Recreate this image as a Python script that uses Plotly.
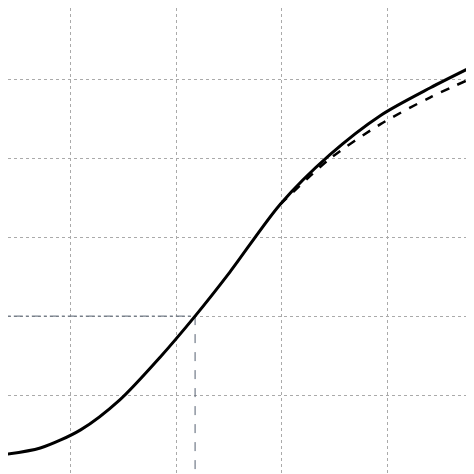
import plotly.graph_objects as go

# solid curve
x_solid = [0.34, 0.72, 1.10, 1.47, 1.85, 2.18, 2.51, 2.98, 3.45, 3.93, 4.40, 4.89]
y_solid = [0.24, 0.33, 0.56, 0.94, 1.48, 2.00, 2.56, 3.41, 4.04, 4.54, 4.89, 5.22]

# dashed curve, only separates from the solid one on the right
x_dash = [2.98, 3.45, 3.93, 4.40, 4.89]
y_dash = [3.41, 3.99, 4.43, 4.77, 5.07]

# marker point on the curve
x_mark = 2.18
y_mark = 2.0

fig = go.Figure()
fig.add_trace(go.Scatter(x=[0.3, x_mark], y=[y_mark, y_mark], mode='lines',
                         line={'color': '#556070', 'width': 1, 'dash': 'dashdot'}))
fig.add_trace(go.Scatter(x=[x_mark, x_mark], y=[y_mark, -0.2], mode='lines',
                         line={'color': '#556070', 'width': 1, 'dash': 'dash'}))
fig.add_trace(go.Scatter(x=x_dash, y=y_dash, mode='lines', line_shape='spline',
                         line={'color': 'black', 'width': 2.5, 'dash': 'dash',
                               'smoothing': 0.8}))
fig.add_trace(go.Scatter(x=x_solid, y=y_solid, mode='lines', line_shape='spline',
                         line={'color': 'black', 'width': 3, 'smoothing': 0.8}))

fig.update_layout(width=474, height=474, margin={'l': 0, 'r': 0, 't': 0, 'b': 0},
                  plot_bgcolor='white', paper_bgcolor='white', showlegend=False)
fig.update_xaxes(range=[0.415, 4.887], tickvals=[1, 2, 3, 4], showticklabels=False,
                 showgrid=True, gridcolor='#aaaaaa', griddash='dot', gridwidth=1,
                 zeroline=False)
fig.update_yaxes(range=[-0.1, 5.9], tickvals=[1, 2, 3, 4, 5], showticklabels=False,
                 showgrid=True, gridcolor='#aaaaaa', griddash='dot', gridwidth=1,
                 zeroline=False)

fig.write_html("out.html")
